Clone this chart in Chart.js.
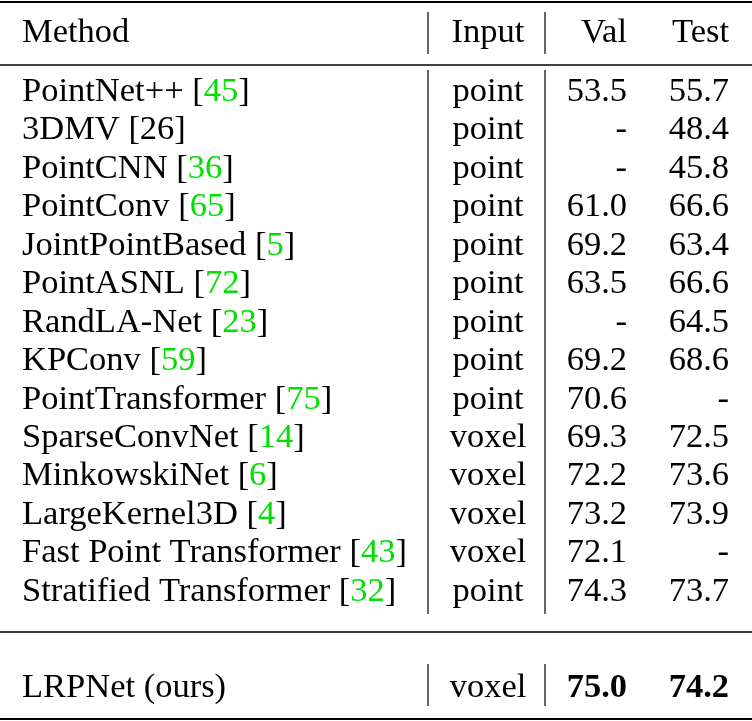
<!DOCTYPE html>
<html><head><meta charset="utf-8">
<script src="https://cdn.jsdelivr.net/npm/chart.js@4"></script>
<style>html,body{margin:0;background:#fff}#wrap{width:752px;height:721px}</style>
</head><body><div id="wrap"><canvas id="c"></canvas></div>
<script>
// Table content
var headers = ['Method', 'Input', 'Val', 'Test'];
var methods = ['PointNet++', '3DMV', 'PointCNN', 'PointConv', 'JointPointBased', 'PointASNL',
  'RandLA-Net', 'KPConv', 'PointTransformer', 'SparseConvNet', 'MinkowskiNet',
  'LargeKernel3D', 'Fast Point Transformer', 'Stratified Transformer'];
var refs = ['45', '26', '36', '65', '5', '72', '23', '59', '75', '14', '6', '4', '43', '32'];
var refLinked = [1, 0, 1, 1, 1, 1, 1, 1, 1, 1, 1, 1, 1, 1];
var inputs = ['point', 'point', 'point', 'point', 'point', 'point', 'point', 'point', 'point',
  'voxel', 'voxel', 'voxel', 'voxel', 'point'];
var valScores = ['53.5', '-', '-', '61.0', '69.2', '63.5', '-', '69.2', '70.6', '69.3', '72.2', '73.2', '72.1', '74.3'];
var testScores = ['55.7', '48.4', '45.8', '66.6', '63.4', '66.6', '64.5', '68.6', '-', '72.5', '73.6', '73.9', '-', '73.7'];
var oursRow = ['LRPNet (ours)', 'voxel', '75.0', '74.2'];

var FONT = '34.5px "Liberation Serif", "DejaVu Serif", serif';
var BOLD = 'bold 34.5px "Liberation Serif", "DejaVu Serif", serif';

// row positions on the y scale: header 0, body rows, then the "ours" row
var rowY = methods.map(function (m, i) { return 1.53 + i; });
var oursY = 17.03;

var tablePlugin = {
  id: 'table',
  afterDraw: function (chart) {
    var ctx = chart.ctx, y = chart.scales.y;
    var px = function (v) { return y.getPixelForValue(v); };
    ctx.save();
    ctx.fillStyle = '#000';
    ctx.strokeStyle = '#000';
    ctx.textBaseline = 'middle';

    function hline(yy, w) { ctx.lineWidth = w; ctx.beginPath(); ctx.moveTo(0, yy); ctx.lineTo(752, yy); ctx.stroke(); }
    function vline(x, a, b) { ctx.lineWidth = 1.2; ctx.beginPath(); ctx.moveTo(x, a); ctx.lineTo(x, b); ctx.stroke(); }

    hline(2, 2.2);
    hline(65, 1.3);
    hline(632, 1.3);
    hline(719, 2.2);
    [428, 545].forEach(function (x) {
      vline(x, 12, 54);
      vline(x, 70, 614);
      vline(x, 664, 706);
    });

    function row(yy, cells, bold) {
      ctx.font = FONT;
      ctx.textAlign = 'left';
      ctx.fillStyle = '#000';
      ctx.fillText(cells[0], 22, yy);
      ctx.textAlign = 'center';
      ctx.fillText(cells[1], 488, yy);
      ctx.textAlign = 'right';
      if (bold) ctx.font = BOLD;
      ctx.fillText(cells[2], 627, yy);
      ctx.fillText(cells[3], 729, yy);
    }

    row(px(0), headers, false);
    methods.forEach(function (m, i) {
      var yy = px(rowY[i]);
      ctx.font = FONT;
      ctx.textAlign = 'left';
      ctx.fillStyle = '#000';
      var x = 22;
      var s = m + ' [';
      ctx.fillText(s, x, yy); x += ctx.measureText(s).width;
      ctx.fillStyle = refLinked[i] ? '#00e000' : '#000';
      ctx.fillText(refs[i], x, yy); x += ctx.measureText(refs[i]).width;
      ctx.fillStyle = '#000';
      ctx.fillText(']', x, yy);
      row(yy, ['', inputs[i], valScores[i], testScores[i]], false);
    });
    row(px(oursY), oursRow, true);
    ctx.restore();
  }
};

new Chart(document.getElementById('c'), {
  type: 'scatter',
  data: { datasets: [{ data: [], pointRadius: 0 }] },
  options: {
    responsive: true,
    maintainAspectRatio: false,
    animation: false,
    layout: { padding: 0 },
    plugins: { legend: { display: false }, tooltip: { enabled: false } },
    scales: {
      x: { display: false, min: 0, max: 752 },
      y: { display: false, min: -0.858, max: 17.89, reverse: true }
    }
  },
  plugins: [tablePlugin]
});
</script>
</body></html>
